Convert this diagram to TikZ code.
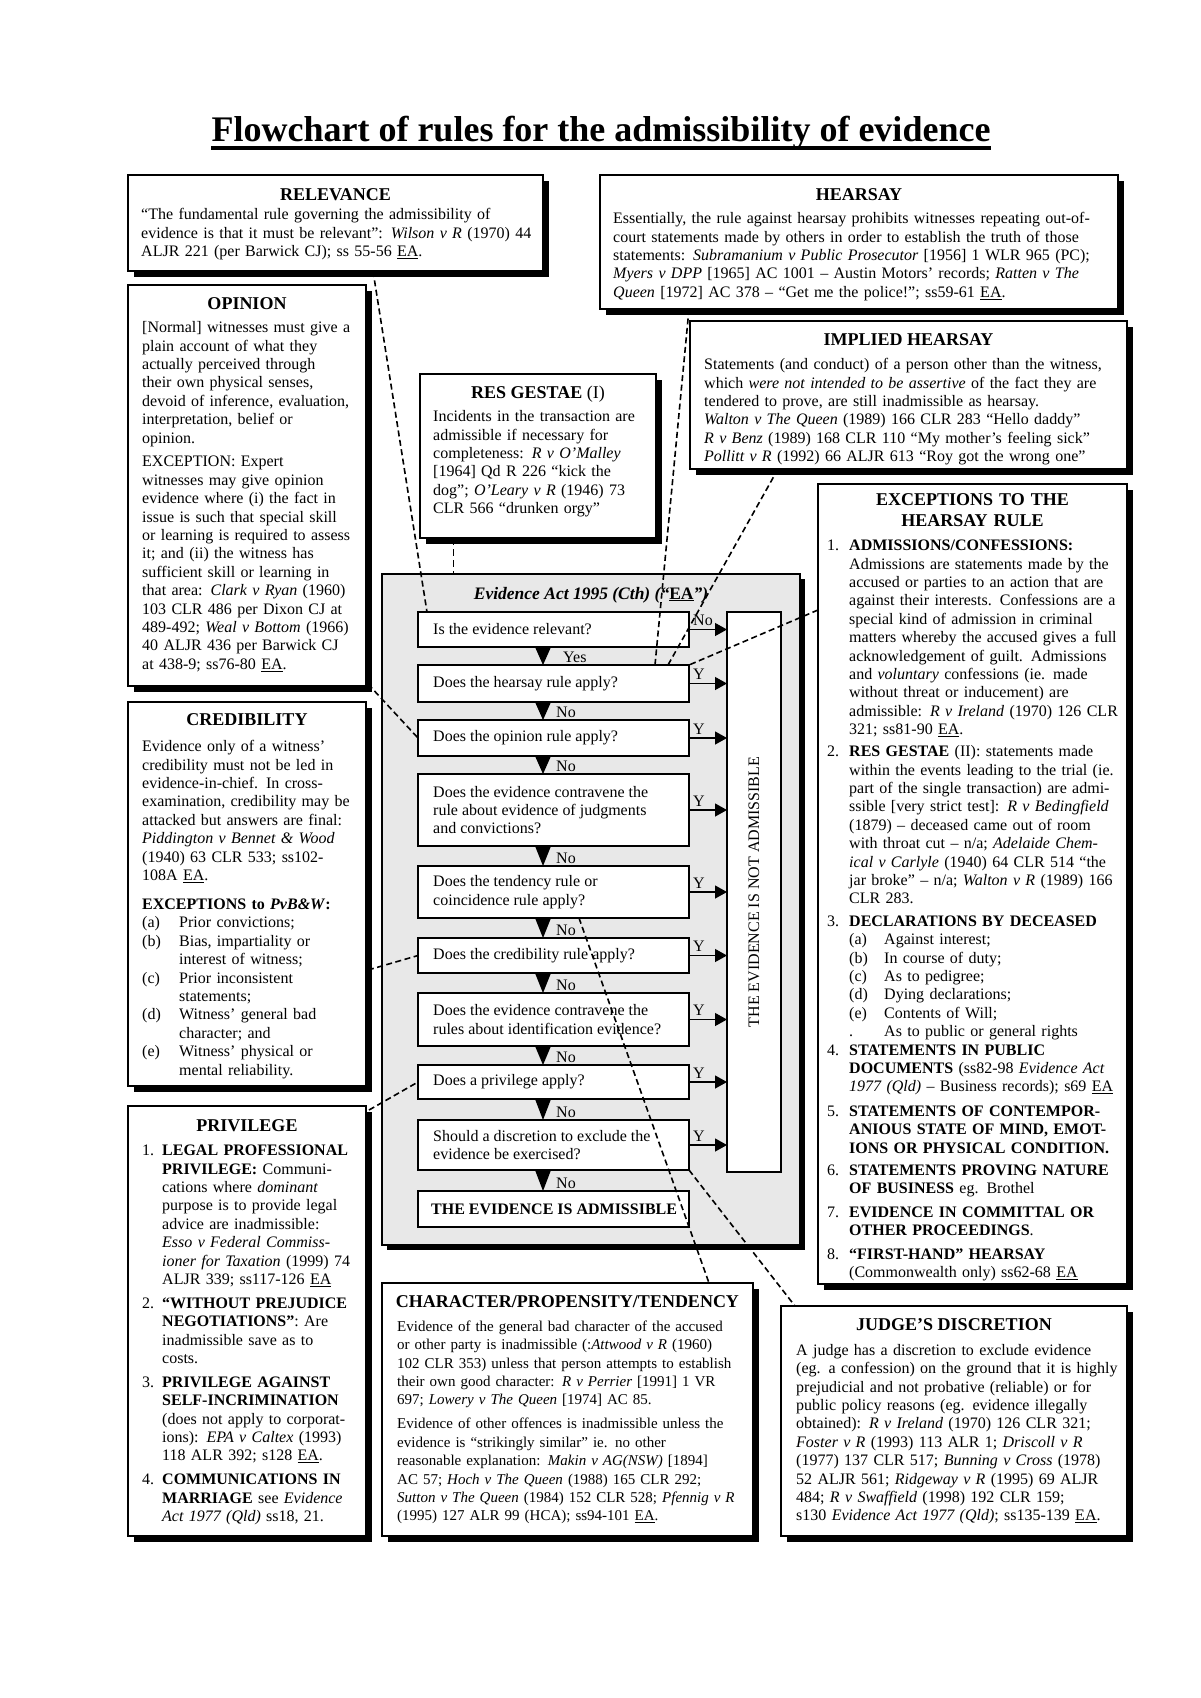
\documentclass[tikz,border=0pt]{standalone}
\usepackage{fontspec}
\setmainfont{Liberation Serif}
\usetikzlibrary{calc,shadows,arrows.meta}
\setlength{\parindent}{0pt}
\newcommand{\ea}{\underline{EA}}
\newcommand{\fs}{\rule{0pt}{13pt}}
\newcommand{\itmf}[2]{\hangindent=#1\hangafter=1\makebox[#1][l]{#2}}
\newcommand{\itm}[2]{\par\itmf{#1}{#2}}
\newcommand{\subl}[1]{\makebox[35pt][l]{#1}}
\newcommand{\dstep}[4]{%
  \fill ($(#1.south west)+(117,0)$) -- ($(#1.south west)+(133,0)$) -- ($(#2.north west)+(125,0)$) -- cycle;
  \node[lbl] (#1n) at ($(#2.north west)+(#4,-3)$) {#3};}
\newcommand{\rstep}[2]{%
  \draw[arr] (#1.east) -- (#1.east -| na.west);
  \node[lbl] (#1y) at ($(#1.east)+(4,-4)$) {#2};}
\begin{document}
\begin{tikzpicture}[x=1pt,y=-1pt,
  tbox/.style={draw, line width=1.3pt, fill=white, inner sep=0pt, outer sep=0pt, anchor=north west,
    drop shadow={shadow xshift=6pt, shadow yshift=-6pt, opacity=1, fill=black}},
  gbox/.style={draw, line width=1.3pt, fill=black!9, inner sep=0pt, outer sep=0pt, anchor=north west,
    drop shadow={shadow xshift=5pt, shadow yshift=-5pt, opacity=1, fill=black}},
  flowbox/.style={draw, line width=2.2pt, fill=white, inner sep=0pt, outer sep=0pt, anchor=north west, minimum width=271pt},
  hd/.style={font=\fontsize{18}{21}\selectfont\bfseries, anchor=base, inner sep=0pt},
  bd/.style={font=\fontsize{16}{18.4}\selectfont, align=left, anchor=north west, inner sep=0pt},
  ft/.style={font=\fontsize{16}{18.4}\selectfont, align=left, anchor=west, inner sep=0pt},
  lbl/.style={font=\fontsize{16}{18.4}\selectfont, inner sep=0pt, anchor=base west},
  conn/.style={line width=1.6pt, dash pattern=on 6pt off 3.5pt},
  arr/.style={line width=1.3pt, -{Triangle[length=12pt,width=13pt]}}
]
\useasboundingbox (0,0) rectangle (1200,1698);

% title
\node[font=\fontsize{36}{40}\selectfont\bfseries, anchor=base, inner sep=0pt] (title) at (601,141)
  {Flowchart of rules for the admissibility of evidence};
\draw[line width=3.5pt] ($(title.base west)+(0,7)$) -- ($(title.base east)+(0,7)$);

% central grey box and flow
\node[gbox, minimum width=418pt, minimum height=671pt] (gray) at (382,574) {};
\node[font=\fontsize{17.5}{20}\selectfont\bfseries\itshape, anchor=base, inner sep=0pt] (grayh)
  at ($(gray.north)+(0,25)$) {Evidence Act 1995 (Cth) (“\underline{\upshape EA}”)};

\node[draw, line width=2.4pt, fill=white, anchor=north west, inner sep=0pt, outer sep=0pt,
  minimum width=54pt, minimum height=560pt] (na) at (727,612) {};
\node[font=\fontsize{16}{18}\selectfont, rotate=90, inner sep=0pt] (nat) at (na.center)
  {THE EVIDENCE IS NOT ADMISSIBLE};

\node[flowbox, minimum height=35pt] (f1) at (418,612) {};
\node[flowbox, minimum height=37pt] (f2) at (418,665) {};
\node[flowbox, minimum height=36pt] (f3) at (418,720) {};
\node[flowbox, minimum height=72pt] (f4) at (418,774) {};
\node[flowbox, minimum height=52pt] (f5) at (418,866) {};
\node[flowbox, minimum height=35pt] (f6) at (418,938) {};
\node[flowbox, minimum height=53pt] (f7) at (418,993) {};
\node[flowbox, minimum height=34pt] (f8) at (418,1065) {};
\node[flowbox, minimum height=50pt] (f9) at (418,1120) {};
\node[flowbox, minimum height=36pt] (f10) at (418,1191) {};

\node[ft] (f1t) at ($(f1.west)+(15,0)$) {Is the evidence relevant?};
\node[ft] (f2t) at ($(f2.west)+(15,0)$) {Does the hearsay rule apply?};
\node[ft] (f3t) at ($(f3.west)+(15,0)$) {Does the opinion rule apply?};
\node[ft] (f4t) at ($(f4.west)+(15,0)$) {Does the evidence contravene the\\rule about evidence of judgments\\and convictions?};
\node[ft] (f5t) at ($(f5.west)+(15,0)$) {Does the tendency rule or\\coincidence rule apply?};
\node[ft] (f6t) at ($(f6.west)+(15,0)$) {Does the credibility rule apply?};
\node[ft] (f7t) at ($(f7.west)+(15,0)$) {Does the evidence contravene the\\rules about identification evidence?};
\node[ft] (f8t) at ($(f8.west)+(15,0)$) {Does a privilege apply?};
\node[ft] (f9t) at ($(f9.west)+(15,0)$) {Should a discretion to exclude the\\evidence be exercised?};
\node[ft] (f10t) at ($(f10.west)+(13,0)$) {\bfseries THE EVIDENCE IS ADMISSIBLE};

\dstep{f1}{f2}{Yes}{145}
\dstep{f2}{f3}{No}{138}
\dstep{f3}{f4}{No}{138}
\dstep{f4}{f5}{No}{138}
\dstep{f5}{f6}{No}{138}
\dstep{f6}{f7}{No}{138}
\dstep{f7}{f8}{No}{138}
\dstep{f8}{f9}{No}{138}
\dstep{f9}{f10}{No}{138}

\rstep{f1}{No}
\rstep{f2}{Y}
\rstep{f3}{Y}
\rstep{f4}{Y}
\rstep{f5}{Y}
\rstep{f6}{Y}
\rstep{f7}{Y}
\rstep{f8}{Y}
\rstep{f9}{Y}

% RELEVANCE
\node[tbox, minimum width=415pt, minimum height=96pt] (rel) at (128,175) {};
\node[hd] (relH) at (335.5,200) {RELEVANCE};
\node[bd, text width=400pt] (relB) at (141,206.5) {\fs “The fundamental rule governing the admissibility of\\
evidence is that it must be relevant”: \textit{Wilson v R} (1970) 44\\
ALJR 221 (per Barwick CJ); ss 55-56 \ea.};

% HEARSAY
\node[tbox, minimum width=518pt, minimum height=134pt] (hear) at (600,175) {};
\node[hd] (hearH) at (859,200) {HEARSAY};
\node[bd, text width=500pt] (hearB) at (613,210.5) {\fs Essentially, the rule against hearsay prohibits witnesses repeating out-of-\\
court statements made by others in order to establish the truth of those\\
statements: \textit{Subramanium v Public Prosecutor} [1956] 1 WLR 965 (PC);\\
\textit{Myers v DPP} [1965] AC 1001 – Austin Motors’ records; \textit{Ratten v The}\\
\textit{Queen} [1972] AC 378 – “Get me the police!”; ss59-61 \ea.};

% OPINION
\node[tbox, minimum width=238pt, minimum height=401pt] (opin) at (128,285) {};
\node[hd] (opinH) at (247,309) {OPINION};
\node[bd, text width=226pt] (opinB) at (142,319.5) {\fs {[}Normal{]} witnesses must give a\\
plain account of what they\\
actually perceived through\\
their own physical senses,\\
devoid of inference, evaluation,\\
interpretation, belief or\\
opinion.\\[5.4pt]
EXCEPTION: Expert\\
witnesses may give opinion\\
evidence where (i) the fact in\\
issue is such that special skill\\
or learning is required to assess\\
it; and (ii) the witness has\\
sufficient skill or learning in\\
that area: \textit{Clark v Ryan} (1960)\\
103 CLR 486 per Dixon CJ at\\
489-492; \textit{Weal v Bottom} (1966)\\
40 ALJR 436 per Barwick CJ\\
at 438-9; ss76-80 \ea.};

% RES GESTAE
\node[tbox, minimum width=236pt, minimum height=164pt] (resg) at (420,374) {};
\node[hd] (resgH) at (538,398) {RES GESTAE \mdseries(I)};
\node[bd, text width=222pt] (resgB) at (433,408.5) {\fs Incidents in the transaction are\\
admissible if necessary for\\
completeness: \textit{R v O’Malley}\\
{[}1964{]} Qd R 226 “kick the\\
dog”; \textit{O’Leary v R} (1946) 73\\
CLR 566 “drunken orgy”};

% IMPLIED HEARSAY
\node[tbox, minimum width=437pt, minimum height=148pt] (impl) at (690,321) {};
\node[hd] (implH) at (908.5,345) {IMPLIED HEARSAY};
\node[bd, text width=420pt] (implB) at (704,356.5) {\fs Statements (and conduct) of a person other than the witness,\\
which \textit{were not intended to be assertive} of the fact they are\\
tendered to prove, are still inadmissible as hearsay.\\
\textit{Walton v The Queen} (1989) 166 CLR 283 “Hello daddy”\\
\textit{R v Benz} (1989) 168 CLR 110 “My mother’s feeling sick”\\
\textit{Pollitt v R} (1992) 66 ALJR 613 “Roy got the wrong one”};

% EXCEPTIONS TO THE HEARSAY RULE
\node[tbox, minimum width=309pt, minimum height=800pt] (exc) at (818,484) {};
\node[font=\fontsize{18}{21}\selectfont\bfseries, text width=300pt, align=center, anchor=north, inner sep=0pt]
  (excH) at (972.5,491) {\rule{0pt}{14pt}EXCEPTIONS TO THE\\HEARSAY RULE};
\node[bd, text width=300pt] (excB) at (827,537.5) {%
\itmf{22pt}{1.}\fs\textbf{ADMISSIONS/CONFESSIONS:}\newline
Admissions are statements made by the\newline
accused or parties to an action that are\newline
against their interests. Confessions are a\newline
special kind of admission in criminal\newline
matters whereby the accused gives a full\newline
acknowledgement of guilt. Admissions\newline
and \textit{voluntary} confessions (ie. made\newline
without threat or inducement) are\newline
admissible: \textit{R v Ireland} (1970) 126 CLR\newline
321; ss81-90 \ea.\par\vspace{3.5pt}
\itm{22pt}{2.}\textbf{RES GESTAE} (II): statements made\newline
within the events leading to the trial (ie.\newline
part of the single transaction) are admi-\newline
ssible {[}very strict test{]}: \textit{R v Bedingfield}\newline
(1879) – deceased came out of room\newline
with throat cut – n/a; \textit{Adelaide Chem-}\newline
\textit{ical v Carlyle} (1940) 64 CLR 514 “the\newline
jar broke” – n/a; \textit{Walton v R} (1989) 166\newline
CLR 283.\par\vspace{4pt}
\itm{22pt}{3.}\textbf{DECLARATIONS BY DECEASED}\newline
\subl{(a)}Against interest;\newline
\subl{(b)}In course of duty;\newline
\subl{(c)}As to pedigree;\newline
\subl{(d)}Dying declarations;\newline
\subl{(e)}Contents of Will;\newline
\subl{.}As to public or general rights\par
\itm{22pt}{4.}\textbf{STATEMENTS IN PUBLIC}\newline
\textbf{DOCUMENTS} (ss82-98 \textit{Evidence Act}\newline
\textit{1977 (Qld)} – Business records); s69 \ea\par\vspace{6pt}
\itm{22pt}{5.}\textbf{STATEMENTS OF CONTEMPOR-}\newline
\textbf{ANIOUS STATE OF MIND, EMOT-}\newline
\textbf{IONS OR PHYSICAL CONDITION.}\par\vspace{4pt}
\itm{22pt}{6.}\textbf{STATEMENTS PROVING NATURE}\newline
\textbf{OF BUSINESS} eg. Brothel\par\vspace{5pt}
\itm{22pt}{7.}\textbf{EVIDENCE IN COMMITTAL OR}\newline
\textbf{OTHER PROCEEDINGS}.\par\vspace{5pt}
\itm{22pt}{8.}\textbf{“FIRST-HAND” HEARSAY}\newline
(Commonwealth only) ss62-68 \ea\par};

% CREDIBILITY
\node[tbox, minimum width=238pt, minimum height=384pt] (cred) at (128,702) {};
\node[hd] (credH) at (247,725) {CREDIBILITY};
\node[bd, text width=226pt] (credB) at (142,738.5) {\fs Evidence only of a witness’\\
credibility must not be led in\\
evidence-in-chief. In cross-\\
examination, credibility may be\\
attacked but answers are final:\\
\textit{Piddington v Bennet \& Wood}\\
(1940) 63 CLR 533; ss102-\\
108A \ea.\\[10.6pt]
\textbf{EXCEPTIONS to \textit{PvB\&W}:}
\itm{37pt}{(a)}Prior convictions;
\itm{37pt}{(b)}Bias, impartiality or\newline interest of witness;
\itm{37pt}{(c)}Prior inconsistent\newline statements;
\itm{37pt}{(d)}Witness’ general bad\newline character; and
\itm{37pt}{(e)}Witness’ physical or\newline mental reliability.\par};

% PRIVILEGE
\node[tbox, minimum width=238pt, minimum height=430pt] (priv) at (128,1106) {};
\node[hd] (privH) at (247,1131) {PRIVILEGE};
\node[bd, text width=226pt] (privB) at (142,1142.5) {%
\itmf{20pt}{1.}\fs\textbf{LEGAL PROFESSIONAL}\newline
\textbf{PRIVILEGE:} Communi-\newline
cations where \textit{dominant}\newline
purpose is to provide legal\newline
advice are inadmissible:\newline
\textit{Esso v Federal Commiss-}\newline
\textit{ioner for Taxation} (1999) 74\newline
ALJR 339; ss117-126 \ea\par\vspace{5.4pt}
\itm{20pt}{2.}\textbf{“WITHOUT PREJUDICE}\newline
\textbf{NEGOTIATIONS”}: Are\newline
inadmissible save as to\newline
costs.\par\vspace{5.4pt}
\itm{20pt}{3.}\textbf{PRIVILEGE AGAINST}\newline
\textbf{SELF-INCRIMINATION}\newline
(does not apply to corporat-\newline
ions): \textit{EPA v Caltex} (1993)\newline
118 ALR 392; s128 \ea.\par\vspace{5.4pt}
\itm{20pt}{4.}\textbf{COMMUNICATIONS IN}\newline
\textbf{MARRIAGE} see \textit{Evidence}\newline
\textit{Act 1977 (Qld)} ss18, 21.\par};

% CHARACTER
\node[tbox, minimum width=371pt, minimum height=253pt] (char) at (382,1283) {};
\node[hd] (charH) at (567.5,1307) {CHARACTER/PROPENSITY/TENDENCY};
\node[bd, font=\fontsize{15}{18.4}\selectfont, text width=368pt] (charB) at (397,1318) {\fs Evidence of the general bad character of the accused\\
or other party is inadmissible (:\textit{Attwood v R} (1960)\\
102 CLR 353) unless that person attempts to establish\\
their own good character: \textit{R v Perrier} {[}1991{]} 1 VR\\
697; \textit{Lowery v The Queen} {[}1974{]} AC 85.\\[5.6pt]
Evidence of other offences is inadmissible unless the\\
evidence is “strikingly similar” ie. no other\\
reasonable explanation: \textit{Makin v AG(NSW)} {[}1894{]}\\
AC 57; \textit{Hoch v The Queen} (1988) 165 CLR 292;\\
\textit{Sutton v The Queen} (1984) 152 CLR 528; \textit{Pfennig v R}\\
(1995) 127 ALR 99 (HCA); ss94-101 \ea.};

% JUDGE'S DISCRETION
\node[tbox, minimum width=346pt, minimum height=230pt] (judg) at (781,1306) {};
\node[hd] (judgH) at (954,1330.5) {JUDGE’S DISCRETION};
\node[bd, text width=335pt] (judgB) at (796,1342) {\fs A judge has a discretion to exclude evidence\\
(eg. a confession) on the ground that it is highly\\
prejudicial and not probative (reliable) or for\\
public policy reasons (eg. evidence illegally\\
obtained): \textit{R v Ireland} (1970) 126 CLR 321;\\
\textit{Foster v R} (1993) 113 ALR 1; \textit{Driscoll v R}\\
(1977) 137 CLR 517; \textit{Bunning v Cross} (1978)\\
52 ALJR 561; \textit{Ridgeway v R} (1995) 69 ALJR\\
484; \textit{R v Swaffield} (1998) 192 CLR 159;\\
s130 \textit{Evidence Act 1977 (Qld)}; ss135-139 \ea.};

% dashed connectors
\draw[conn] ($(rel.south west)+(245,0)$) -- ($(f1.north west)+(9,0)$);
\draw[line width=0.9pt, dash pattern=on 7pt off 4pt] ($(resg.south west)+(33,0)$) -- ($(gray.north west)+(71,0)$);
\draw[conn] ($(hear.south west)+(89,0)$) -- ($(f2.north west)+(237,0)$);
\draw[conn] ($(impl.south west)+(88,0)$) -- ($(f2.north west)+(250,0)$);
\draw[conn] ($(exc.north west)+(0,126)$) -- (f2.north east);
\draw[conn] ($(opin.south east)+(2,-2)$) -- (f3.west);
\draw[conn] ($(cred.north east)+(2,268)$) -- (f6.west);
\draw[conn] ($(priv.north east)+(3,4)$) -- (f8.west);
\draw[conn] ($(f5.south west)+(161,0)$) -- ($(char.north west)+(327,0)$);
\draw[conn] (f9.south east) -- ($(judg.north west)+(14,0)$);
\end{tikzpicture}
\end{document}
